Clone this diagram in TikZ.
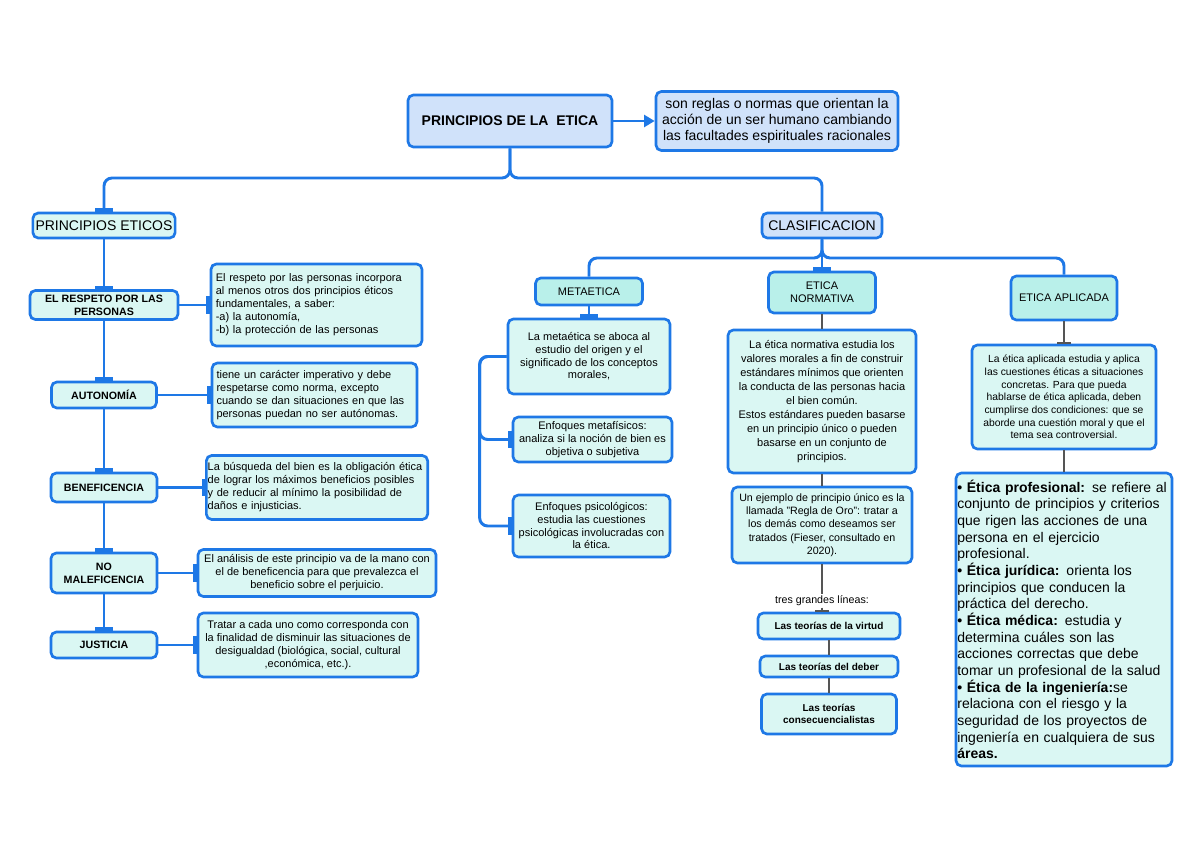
\documentclass[tikz,border=0pt]{standalone}
\usepackage{fontspec}
\setmainfont{Liberation Sans}
\usetikzlibrary{arrows.meta,positioning}
\definecolor{bordblue}{RGB}{30,120,230}
\definecolor{skyfill}{RGB}{208,226,250}
\definecolor{mintfill}{RGB}{185,240,234}
\definecolor{palefill}{RGB}{218,247,243}
\definecolor{wiregray}{RGB}{85,85,85}
\tikzset{
  box/.style={draw=bordblue,line width=2pt,rounded corners=4pt,inner sep=2pt,align=center},
  sky/.style={box,fill=skyfill},
  mint/.style={box,fill=mintfill},
  pale/.style={box,fill=palefill},
  fs/.style 2 args={font=\fontsize{#1}{#2}\selectfont},
  fsb/.style 2 args={font=\fontsize{#1}{#2}\selectfont\bfseries},
  link/.style={bordblue,line width=2.2pt,rounded corners=6pt},
  grayline/.style={wiregray,line width=1pt},
  barend/.style={-{Bar[width=13pt,line width=2.6pt]}},
  graybar/.style={-{Bar[width=11pt,line width=1.4pt]}},
}
\begin{document}
\begin{tikzpicture}[x=0.75pt,y=-0.75pt]
  \fill[white] (0,0) rectangle (1200,866);
  \useasboundingbox (0,0) rectangle (1200,866);
  % top row
  \node[sky,fsb={10.5}{12},minimum width=153pt,minimum height=39pt] (main) at (510,121) {PRINCIPIOS DE LA\ \ ETICA};
  \node[sky,fs={10.5}{12},minimum width=181.5pt,minimum height=44.25pt] (def) at (777,121)
    {son reglas o normas que orientan la\\acción de un ser humano cambiando\\las facultades espirituales racionales};
  \node[pale,fs={10.5}{12},minimum width=106.5pt,minimum height=18.75pt] (pe) at (104,225.5) {PRINCIPIOS ETICOS};
  \node[sky,fs={10.5}{12},minimum width=90pt,minimum height=18.75pt] (clas) at (822,225.5) {CLASIFICACION};
  % left column
  \node[pale,fsb={8}{10},minimum width=111pt,minimum height=21.75pt] (resp) at (104,305) {EL RESPETO POR LAS\\PERSONAS};
  \node[pale,fsb={8}{10},minimum width=78.75pt,minimum height=19.5pt] (auto) at (104,395) {AUTONOMÍA};
  \node[pale,fsb={8}{10},minimum width=79.5pt,minimum height=21.75pt] (bene) at (104,487.5) {BENEFICENCIA};
  \node[pale,fsb={8}{10},minimum width=79.5pt,minimum height=30pt] (nomal) at (104,573) {NO\\MALEFICENCIA};
  \node[pale,fsb={8}{10},minimum width=79.5pt,minimum height=19.5pt] (just) at (104,645) {JUSTICIA};
  \node[pale,fs={8.25}{9.75},align=left,text width=151pt,minimum width=158.25pt,minimum height=61.5pt] (respd) at (316.5,305)
    {El respeto por las personas incorpora\\al menos otros dos principios éticos\\fundamentales, a saber:\\-a) la autonomía,\\-b) la protección de las personas};
  \node[pale,fs={8.25}{9.75},align=left,text width=147pt,minimum width=153.75pt,minimum height=48pt] (autod) at (314.5,395)
    {tiene un carácter imperativo y debe\\respetarse como norma, excepto\\cuando se dan situaciones en que las\\personas puedan no ser autónomas.};
  \node[pale,fs={8.25}{9.75},align=left,text width=164pt,inner sep=1pt,minimum width=165pt,minimum height=48pt] (bened) at (317,487.5)
    {La búsqueda del bien es la obligación ética\\de lograr los máximos beneficios posibles\\y de reducir al mínimo la posibilidad de\\daños e injusticias.};
  \node[pale,fs={8.25}{9.75},minimum width=178.5pt,minimum height=35.25pt] (nomald) at (317,573)
    {El análisis de este principio va de la mano con\\el de beneficencia para que prevalezca el\\beneficio sobre el perjuicio.};
  \node[pale,fs={8.25}{9.75},minimum width=165pt,minimum height=48pt] (justd) at (308,645)
    {Tratar a cada uno como corresponda con\\la finalidad de disminuir las situaciones de\\desigualdad (biológica, social, cultural\\,económica, etc.).};
  % metaetica
  \node[mint,fs={8.25}{10},minimum width=80.25pt,minimum height=20.25pt] (meta) at (589,291.5) {METAETICA};
  \node[pale,fs={8.25}{9.5},minimum width=121.5pt,minimum height=56.25pt] (metad) at (589,356.5)
    {La metaética se aboca al\\estudio del origen y el\\significado de los conceptos\\morales,};
  \node[pale,fs={8.25}{9.5},minimum width=119.25pt,minimum height=33.75pt] (metaf) at (592.5,439.5)
    {Enfoques metafísicos:\\analiza si la noción de bien es\\objetiva o subjetiva};
  \node[pale,fs={8.25}{9.5},minimum width=117.75pt,minimum height=46.5pt] (metap) at (591.5,526)
    {Enfoques psicológicos:\\estudia las cuestiones\\psicológicas involucradas con\\la ética.};
  % etica normativa
  \node[mint,fs={8.25}{10},minimum width=80.25pt,minimum height=30.75pt] (norm) at (822,292.5) {ETICA\\NORMATIVA};
  \node[pale,fs={8.25}{10.5},minimum width=141pt,minimum height=107.25pt] (normd) at (822,401.5)
    {La ética normativa estudia los\\valores morales a fin de construir\\estándares mínimos que orienten\\la conducta de las personas hacia\\el bien común.\\Estos estándares pueden basarse\\en un principio único o pueden\\basarse en un conjunto de\\principios.};
  \node[pale,fs={8}{10},minimum width=135pt,minimum height=57pt] (ejem) at (822,525)
    {Un ejemplo de principio único es la\\llamada "Regla de Oro": tratar a\\los demás como deseamos ser\\tratados (Fieser, consultado en\\2020).};
  \node[fs={8}{10},inner sep=1pt] (tres) at (822,601) {tres grandes líneas:};
  \node[pale,fsb={7.5}{9},minimum width=106.5pt,minimum height=19.5pt] (virt) at (829,626) {Las teorías de la virtud};
  \node[pale,fsb={7.5}{9},minimum width=103.5pt,minimum height=15.75pt] (deb) at (829,666.5) {Las teorías del deber};
  \node[pale,fsb={7.5}{9},minimum width=101.25pt,minimum height=30pt] (cons) at (829,714) {Las teorías\\consecuencialistas};
  % etica aplicada
  \node[mint,fs={8.25}{10},minimum width=79.5pt,minimum height=33pt] (apl) at (1064,298) {ETICA APLICADA};
  \node[pale,fs={7.75}{9.5},minimum width=138pt,minimum height=78pt] (apld) at (1064,397)
    {La ética aplicada estudia y aplica\\las cuestiones éticas a situaciones\\concretas. Para que pueda\\hablarse de ética aplicada, deben\\cumplirse dos condiciones: que se\\aborde una cuestión moral y que el\\tema sea controversial.};
  \node[pale,fs={10.5}{12.5},align=left,text width=160pt,inner sep=1pt,minimum width=162pt,minimum height=219.75pt] (big) at (1064,619.5)
    {\textbf{• Ética profesional:} se refiere al\\conjunto de principios y criterios\\que rigen las acciones de una\\persona en el ejercicio\\profesional.\\\textbf{• Ética jurídica:} orienta los\\principios que conducen la\\práctica del derecho.\\\textbf{• Ética médica:} estudia y\\determina cuáles son las\\acciones correctas que debe\\tomar un profesional de la salud\\\textbf{• Ética de la ingeniería:}se\\relaciona con el riesgo y la\\seguridad de los proyectos de\\ingeniería en cualquiera de sus\\\textbf{áreas.}};
  % connectors
  \coordinate (fork) at (510,178);
  \coordinate (fork2) at (822,258);
  \draw[link,-{Triangle[length=8pt,width=9pt]}] (main.east) -- (def.west);
  \draw[link,barend] (main.south) -- (fork) -| (pe.north);
  \draw[link] (main.south) -- (fork) -| (clas.north);
  \draw[link,barend] (pe) -- (resp);
  \draw[link,barend] (resp) -- (auto);
  \draw[link,barend] (auto) -- (bene);
  \draw[link,barend] (bene) -- (nomal);
  \draw[link,barend] (nomal) -- (just);
  \draw[link,barend] (resp) -- (respd);
  \draw[link,barend] (auto) -- (autod);
  \draw[link,barend] (bene) -- (bened);
  \draw[link,barend] (nomal) -- (nomald);
  \draw[link,barend] (just) -- (justd);
  \draw[link] (clas.south) -- (fork2) -| (meta.north);
  \draw[link,barend] (clas.south) -- (norm.north);
  \draw[link] (clas.south) -- (fork2) -| (apl.north);
  \draw[link,barend] (meta) -- (metad);
  \draw[link,barend] (metad.west) -- ++(-27,0) |- (metaf.west);
  \draw[link,barend] (metad.west) -- ++(-27,0) |- (metap.west);
  \draw[grayline] (norm) -- (normd);
  \draw[grayline] (normd) -- (ejem);
  \draw[grayline] (ejem) -- (tres);
  \draw[grayline,graybar] (tres.south) -- (tres.south |- virt.north);
  \draw[grayline] (virt) -- (deb);
  \draw[grayline] (deb) -- (cons);
  \draw[grayline,graybar] (apl) -- (apld);
  \draw[grayline] (apld) -- (big);
\end{tikzpicture}
\end{document}
